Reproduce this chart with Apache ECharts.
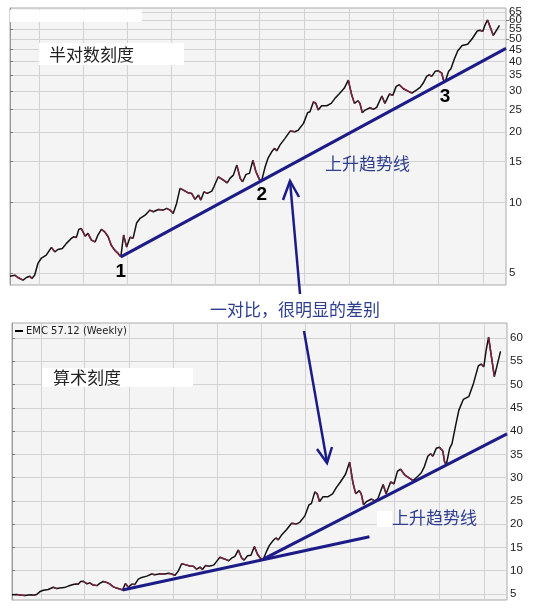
<!DOCTYPE html>
<html><head><meta charset="utf-8">
<script src="https://cdn.jsdelivr.net/npm/echarts@6/dist/echarts.min.js"></script>
<style>html,body{margin:0;padding:0;background:#fff}#c{width:533px;height:608px}</style>
</head><body><div id="c"></div>
<script>
// Week position and weekly close of EMC
const weeks = [0.0,1.4,2.3,3.8,4.8,5.8,6.4,7.2,8.2,9.2,10.6,12.1,13.1,14.0,15.3,16.5,17.9,18.7,19.4,20.1,20.8,22.0,22.8,23.8,24.9,25.7,26.7,27.7,28.7,29.6,30.6,31.6,32.4,33.2,34.1,35.1,36.0,37.0,38.0,39.5,40.9,41.9,43.4,44.8,45.8,46.8,47.7,48.7,49.7,50.7,52.1,53.1,54.1,55.1,55.8,56.7,57.7,59.0,59.6,60.9,62.4,63.5,64.3,65.3,66.3,67.3,68.0,69.0,70.0,71.0,71.9,72.9,73.6,74.6,75.4,76.5,77.3,78.0,78.9,80.4,81.9,83.3,84.3,85.8,87.0,87.7,88.7,89.4,90.1,91.1,92.6,93.9,95.0,96.2,97.7,98.9,99.9,100.7,101.7,102.3,103.0,103.8,105.3,106.2,107.2,108.7,109.6,110.9,111.9,112.9,113.8,115.0,116.5,117.5,118.9,119.9,120.8,121.8,122.6,123.3,124.3,125.2,126.2,126.7,127.2,128.2,128.9,129.9,130.9,132.2,133.8,135.2,136.6,137.4,138.2,138.9,139.6,141.3,143.1];
const prices = [4.85,4.90,4.79,4.67,4.79,4.85,4.74,4.90,5.52,5.80,5.97,6.44,6.16,6.31,6.37,6.70,7.03,7.15,7.10,7.68,7.76,7.19,7.39,6.92,6.80,7.27,7.68,7.50,7.15,6.58,6.27,6.07,5.87,7.27,6.46,7.12,7.05,8.18,8.56,8.84,9.29,9.14,9.35,9.29,9.45,9.29,8.99,9.92,11.50,11.31,11.01,10.95,10.32,10.77,10.25,11.12,10.95,11.20,11.68,12.89,12.48,12.15,12.69,13.10,14.46,12.69,12.27,13.20,13.33,15.19,13.54,12.56,12.48,14.22,15.44,16.48,17.04,16.64,17.60,18.80,20.20,20.06,20.40,21.79,24.18,24.42,26.94,26.52,24.83,25.90,25.90,26.52,27.86,29.06,30.73,33.35,28.78,26.52,27.21,26.52,24.18,24.83,25.40,25.00,25.50,28.50,26.52,29.06,28.69,31.34,31.84,30.61,29.84,29.35,30.31,31.04,32.38,34.58,35.13,34.58,36.33,36.54,35.72,33.45,32.71,36.3,37.3,41.0,44.5,46.8,47.4,50.3,54.0,54.4,53.8,57.4,60.2,51.7,57.12];

// semi-log axis ticks (split in two sets so crowded top labels all show)
const logTicksA = [5,10,15,20,25,30,35,40,45,55,65];
const logTicksB = [50,60];
const linTicks = [5,10,15,20,25,30,35,40,45,50,55,60];
const quarterTicks = [8.5,21.3,34.3,47.1,60.0,72.9,86.0,99.1,112.1,125.2,138.3];

// pivot lows
const pivotNames = ['1','2','3'];
const pivotWeeks = [32.4,73.6,127.2];
const pivotPrices = [5.87,12.48,32.71];

// trend lines
const trendTopWeeks = [32.4,145];
const trendTopPrices = [5.87,45.5];
const trendLowWeeks = [32.4,104.7];
const trendLowPrices = [5.87,17.3];
const trendMidWeeks = [73.6,145];
const trendMidPrices = [12.48,39.4];

const pairs = (xs, ys) => xs.map((x, i) => [x, ys[i]]);
const priceData = pairs(weeks, prices);
const downSegs = [];
for (let i = 0; i + 1 < weeks.length; i++) {
  if (prices[i + 1] < prices[i]) downSegs.push({coords: [[weeks[i], prices[i]], [weeks[i + 1], prices[i + 1]]]});
}

const BLACK = '#111', RED = '#7e2244', NAVY = '#1c1c88', TXT = '#2f3f8f';
const gridLine = {show: true, lineStyle: {color: '#d2d2d2', width: 1}};

function xAxis(gi) {
  return {type: 'value', gridIndex: gi, min: 0, max: 145,
    axisLine: {show: false}, axisLabel: {show: false},
    axisTick: {show: false, customValues: quarterTicks},
    splitLine: gridLine};
}
function yAxis(gi, type, min, max, ticks, main) {
  return {type: type, gridIndex: gi, position: 'right', min: min, max: max,
    axisLine: {show: main, lineStyle: {color: '#999'}},
    axisTick: {show: true, length: 3, inside: false, lineStyle: {color: '#777'}, customValues: ticks},
    axisLabel: {show: true, margin: 3, fontSize: 11.5, color: '#222', fontFamily: 'Liberation Sans',
      customValues: ticks, hideOverlap: false, showMinLabel: true, showMaxLabel: true},
    splitLine: gridLine};
}
function priceSeries(xi, yi) {
  return [
    {type: 'line', xAxisIndex: xi, yAxisIndex: yi, data: priceData, showSymbol: false, symbol: 'none',
      lineStyle: {color: BLACK, width: 1.5}, z: 3},
    {type: 'lines', coordinateSystem: 'cartesian2d', xAxisIndex: xi, yAxisIndex: yi, data: downSegs,
      lineStyle: {color: RED, width: 1.5, opacity: 1}, z: 4}
  ];
}
function trend(xi, yi, xs, ys) {
  return {type: 'line', xAxisIndex: xi, yAxisIndex: yi, data: pairs(xs, ys), showSymbol: false, symbol: 'none',
    lineStyle: {color: NAVY, width: 3}, z: 5};
}

const option = {
  animation: false,
  backgroundColor: '#fff',
  grid: [
    {left: 10, top: 8, width: 496, height: 277, show: true, backgroundColor: '#f4f4f4', borderColor: '#aaa', borderWidth: 1},
    {left: 12, top: 323, width: 495, height: 277, show: true, backgroundColor: '#f4f4f4', borderColor: '#aaa', borderWidth: 1}
  ],
  xAxis: [xAxis(0), xAxis(1)],
  yAxis: [
    yAxis(0, 'log', 4.45, 67.7, logTicksA, true),
    yAxis(1, 'value', 3.71, 63.22, linTicks, true),
    yAxis(0, 'log', 4.45, 67.7, logTicksB, false)
  ],
  series: [
    ...priceSeries(0, 0),
    ...priceSeries(1, 1),
    trend(0, 0, trendTopWeeks, trendTopPrices),
    trend(1, 1, trendLowWeeks, trendLowPrices),
    trend(1, 1, trendMidWeeks, trendMidPrices),
    {type: 'scatter', xAxisIndex: 0, yAxisIndex: 0, symbolSize: 1, itemStyle: {color: '#000', opacity: 0},
      data: pivotWeeks.map((w, i) => ({name: pivotNames[i], value: [w, pivotPrices[i]]})),
      label: {show: true, position: 'bottom', distance: 5, formatter: '{b}', fontSize: 19, fontWeight: 'bold',
        color: '#000', opacity: 1, fontFamily: 'Liberation Sans'}, z: 6}
  ],
  graphic: [
    {type: 'rect', shape: {x: 10, y: 10, width: 132, height: 12}, style: {fill: '#fff'}, z: 10},
    {type: 'rect', shape: {x: 39, y: 43, width: 145, height: 22}, style: {fill: '#fff'}, z: 10},
    {type: 'text', x: 49, y: 55, style: {text: '半对数刻度', fontSize: 17, fill: '#222', fontFamily: 'Noto Sans CJK SC', verticalAlign: 'middle'}, z: 11},
    {type: 'rect', shape: {x: 42, y: 368, width: 151, height: 19}, style: {fill: '#fff'}, z: 10},
    {type: 'text', x: 53, y: 378, style: {text: '算术刻度', fontSize: 17, fill: '#222', fontFamily: 'Noto Sans CJK SC', verticalAlign: 'middle'}, z: 11},
    {type: 'rect', shape: {x: 15, y: 330, width: 8, height: 2}, style: {fill: '#000'}, z: 11},
    {type: 'text', x: 26, y: 331, style: {text: 'EMC 57.12 (Weekly)', fontSize: 10, fill: '#222', fontFamily: 'DejaVu Sans', verticalAlign: 'middle'}, z: 11},
    {type: 'text', x: 325, y: 164, style: {text: '上升趋势线', fontSize: 17, fill: TXT, fontFamily: 'Noto Sans CJK SC', verticalAlign: 'middle'}, z: 11},
    {type: 'rect', shape: {x: 377, y: 511, width: 15, height: 16}, style: {fill: '#fff'}, z: 10},
    {type: 'text', x: 392, y: 518, style: {text: '上升趋势线', fontSize: 17, fill: TXT, fontFamily: 'Noto Sans CJK SC', verticalAlign: 'middle'}, z: 11},
    {type: 'text', x: 210, y: 310, style: {text: '一对比，很明显的差别', fontSize: 17, fill: TXT, fontFamily: 'Noto Sans CJK SC', verticalAlign: 'middle'}, z: 11},
    {type: 'polyline', shape: {points: [[300, 294], [290, 181]]}, style: {stroke: NAVY, lineWidth: 2.5, fill: null}, z: 12},
    {type: 'polyline', shape: {points: [[283, 200], [290, 181], [299, 197]]}, style: {stroke: NAVY, lineWidth: 2.5, fill: null}, z: 12},
    {type: 'polyline', shape: {points: [[304, 331], [327, 462]]}, style: {stroke: NAVY, lineWidth: 2.5, fill: null}, z: 12},
    {type: 'polyline', shape: {points: [[317, 449], [327, 463], [332, 447]]}, style: {stroke: NAVY, lineWidth: 2.5, fill: null}, z: 12}
  ]
};
echarts.init(document.getElementById('c'), null, {renderer: 'canvas'}).setOption(option);
</script></body></html>
